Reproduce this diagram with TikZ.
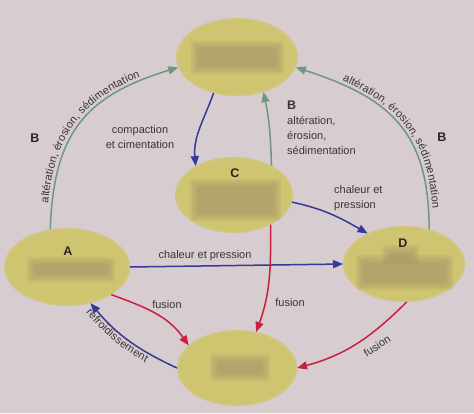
\documentclass[tikz,border=0pt]{standalone}
\usepackage{fontspec}
\setmainfont{Liberation Sans}
\usetikzlibrary{shapes.geometric,arrows.meta,decorations.text}
\definecolor{bgc}{RGB}{215,204,208}
\definecolor{ellc}{RGB}{207,197,112}
\definecolor{blurc}{RGB}{168,150,108}
\definecolor{grn}{RGB}{108,152,124}
\definecolor{blu}{RGB}{52,58,150}
\definecolor{rdc}{RGB}{200,32,62}
\definecolor{txt}{RGB}{58,52,56}
\newcommand\softbox[4]{%
  \foreach \k in {0,1,2,3,4}{%
    \fill[blurc, fill opacity=0.2, rounded corners=3pt]
      ({#1-4+2*\k},{#2+4-2*\k}) rectangle ({#3+4-2*\k},{#4-4+2*\k});}}
\begin{document}
\begin{tikzpicture}[x=1pt,y=1pt,
  rock/.style={ellipse, fill=ellc, draw=ellc!85!bgc, line width=2pt, inner sep=0pt},
  lab/.style={font=\fontsize{11}{15}\selectfont, text=txt, inner sep=0pt},
  letter/.style={font=\fontsize{12.5}{14}\selectfont\bfseries, text=txt!70!black, inner sep=0pt},
  conn/.style={line width=1.5pt, -{Triangle[length=10pt,width=8pt]}}
]
\fill[bgc] (0,0) rectangle (474,-413);
\useasboundingbox (0,0) rectangle (474,-413);

% rock ellipses
\node[rock, minimum width=120pt, minimum height=76pt] (T) at (237,-57) {};
\node[rock, minimum width=116pt, minimum height=74pt] (C) at (234,-195) {};
\node[rock, minimum width=124pt, minimum height=76pt] (A) at (67,-267) {};
\node[rock, minimum width=120pt, minimum height=74pt] (D) at (404,-264) {};
\node[rock, minimum width=118pt, minimum height=74pt] (M) at (237,-368) {};

% blurred (hidden) names
\softbox{195}{-45}{280}{-70}
\softbox{194}{-183}{277}{-217}
\softbox{31}{-261}{111}{-278}
\softbox{360}{-259}{449}{-286}
\softbox{386}{-249}{415}{-262}
\softbox{214}{-358}{266}{-377}

% letters
\node[letter] (la) at (68,-251) {A};
\node[letter] (lc) at (235,-173) {C};
\node[letter] (ld) at (403,-243) {D};

% green: alteration, erosion, sedimentation
\draw[conn, grn] (A.114) to[out=88,in=197,looseness=1.2] (T.190);
\path[decorate, decoration={text along path, raise=4pt,
   text align={left indent=26pt},
   text={|\fontsize{11}{13}\selectfont\color{txt}|altération, érosion, sédimentation}}]
   (A.114) to[out=88,in=197,looseness=1.2] (T.190);
\node[letter] (b1) at (35,-138) {B};

\draw[conn, grn] (C.38) to[out=92,in=-78] (T.307);
\node[lab, anchor=north west, align=left] (b2) at (287,-101)
  {{\fontsize{12.5}{14}\selectfont\bfseries B}\\altération,\\érosion,\\sédimentation};

\draw[conn, grn] (D.54) to[out=90,in=-18,looseness=1.2] (T.350);
\path[decorate, decoration={text along path, raise=4pt,
   text align={left indent=48pt},
   text={|\fontsize{11}{13}\selectfont\color{txt}|altération, érosion, sédimentation}}]
   (T.350) to[out=-18,in=90,looseness=1.2] (D.54);
\node[letter] (b3) at (442,-137) {B};

% blue
\draw[conn, blu] (T.237) to[out=250,in=95] (C.143);
\node[lab, align=center] (lcomp) at (140,-137) {compaction\\et cimentation};

\draw[conn, blu] (C.353) to[out=-12,in=150] (D.140);
\node[lab, anchor=west, align=left] (lch1) at (334,-198) {chaleur et\\pression};

\draw[conn, blu] (A.east) -- (D.west);
\node[lab] (lch2) at (205,-256) {chaleur et pression};

\draw[conn, blu] (M.west) to[out=155,in=-50] (A.303);
\path[decorate, decoration={text along path, raise=-9.5pt,
   text align={left indent=4pt},
   text={|\fontsize{11}{13}\selectfont\color{txt}|refroidissement}}]
   (A.303) to[out=-50,in=155] (M.west);

% red: fusion
\draw[conn, rdc] (A.328) to[out=-20,in=125] (M.155);
\node[lab] (lf1) at (167,-305) {fusion};

\draw[conn, rdc] (C.321) to[out=-90,in=70] (M.62);
\node[lab] (lf2) at (290,-303) {fusion};

\draw[conn, rdc] (D.274) to[out=225,in=15] (M.east);
\node[lab, rotate=33] (lf3) at (377,-346) {fusion};
\end{tikzpicture}
\end{document}
